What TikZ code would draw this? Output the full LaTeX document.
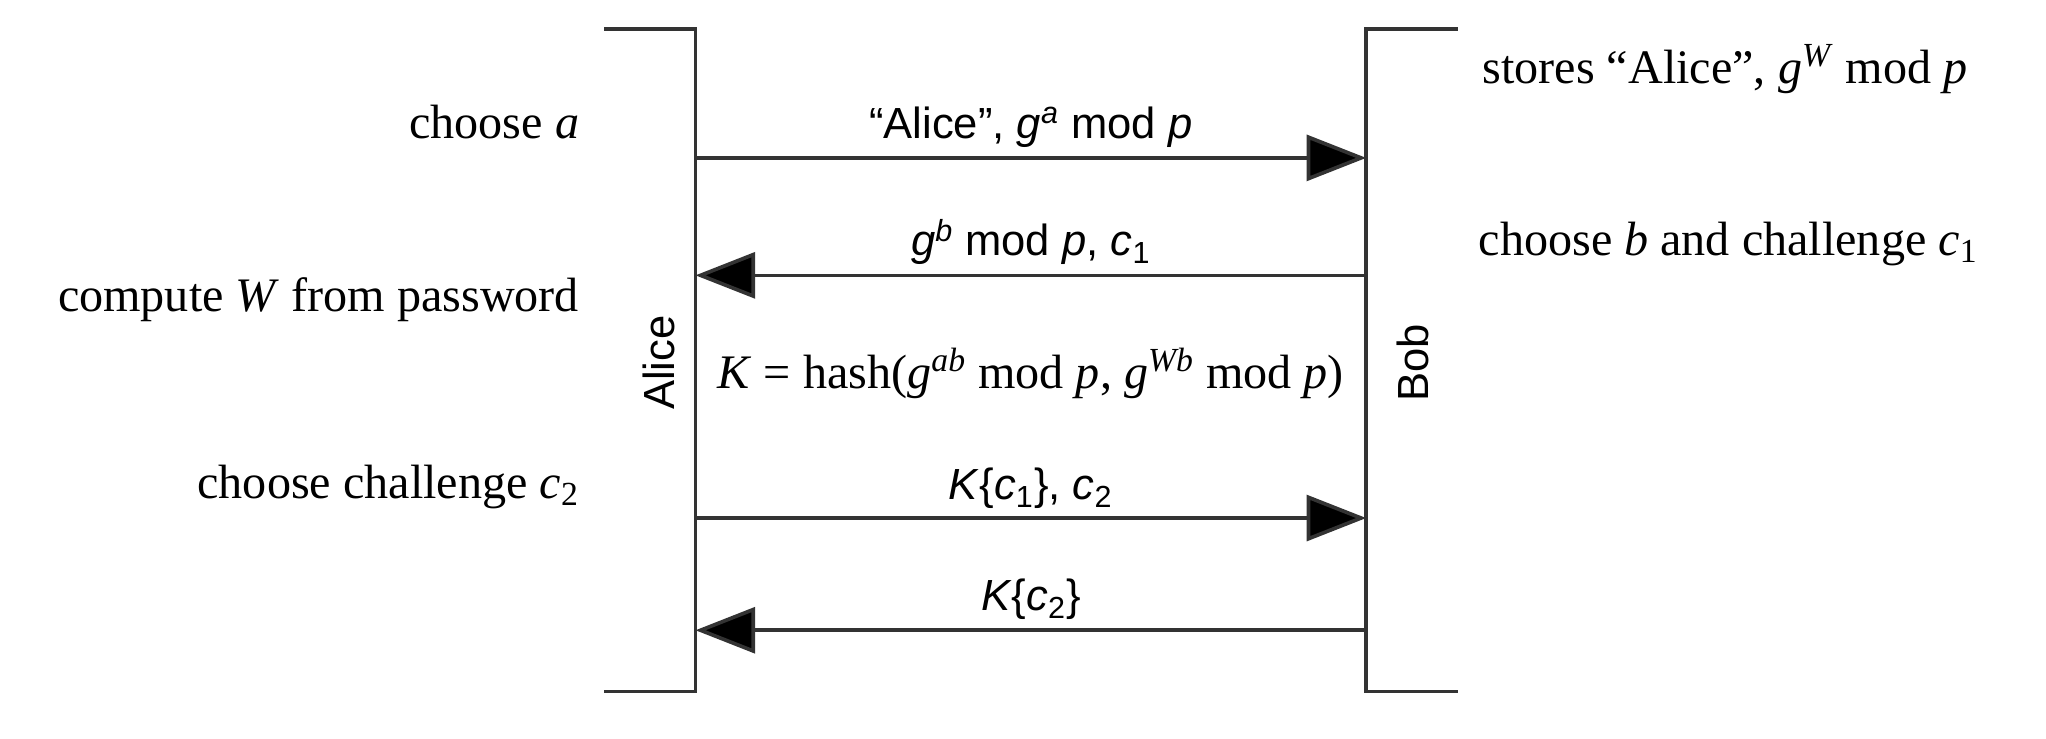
\documentclass[tikz,border=0pt]{standalone}
\usepackage{fontspec}
\setmainfont{Liberation Serif}
\setsansfont{Liberation Sans}
\usetikzlibrary{arrows.meta}
\newcommand{\sI}[1]{\textit{#1}}
\begin{document}
\begin{tikzpicture}[x=0.02cm,y=-0.02cm,
  lane/.style={line width=1.6pt,draw=black!80},
  msg/.style={line width=1.6pt,draw=black!80,-{Triangle[length=26pt,width=20pt,fill=black]}},
  mlab/.style={font=\sffamily\fontsize{19}{22}\selectfont,anchor=base},
  side/.style={font=\fontsize{21}{24}\selectfont,anchor=base}]
\useasboundingbox (0,0) rectangle (1568,566);
\coordinate (a1) at (533,22); \coordinate (a2) at (533,530);
\coordinate (b1) at (1047,22); \coordinate (b2) at (1047,530);
\draw[lane] (463,22) -- (a1) -- (a2) -- (463,530);
\draw[lane] (1117,22) -- (b1) -- (b2) -- (1117,530);
\node[font=\sffamily\fontsize{19}{22}\selectfont,rotate=90] (alice) at (505,278) {Alice};
\node[font=\sffamily\fontsize{19}{22}\selectfont,rotate=90] (bob) at (1083,278) {Bob};
\coordinate (m1a) at (533,121); \coordinate (m1b) at (1047,121);
\coordinate (m2a) at (533,211); \coordinate (m2b) at (1047,211);
\coordinate (m3a) at (533,397); \coordinate (m3b) at (1047,397);
\coordinate (m4a) at (533,483); \coordinate (m4b) at (1047,483);
\draw[msg] (m1a) -- (m1b);
\draw[msg] (m2b) -- (m2a);
\draw[msg] (m3a) -- (m3b);
\draw[msg] (m4b) -- (m4a);
\node[mlab] (l1) at (790,106) {``Alice'', \sI{g}\textsuperscript{\sI{a}} mod \sI{p}};
\node[mlab] (l2) at (790,196) {\sI{g}\textsuperscript{\sI{b}} mod \sI{p}, \sI{c}\textsubscript{1}};
\node[mlab] (l3) at (790,383) {\sI{K}\{\sI{c}\textsubscript{1}\}, \sI{c}\textsubscript{2}};
\node[mlab] (l4) at (790,468) {\sI{K}\{\sI{c}\textsubscript{2}\}};
\node[side] (k) at (790,298) {\sI{K} = hash(\sI{g}\textsuperscript{\sI{ab}} mod \sI{p}, \sI{g}\textsuperscript{\sI{Wb}} mod \sI{p})};
\node[side,anchor=base east] (s1) at (450,106) {choose \sI{a}};
\node[side,anchor=base east] (s2) at (450,239) {compute \sI{W} from password};
\node[side,anchor=base east] (s3) at (450,382) {choose challenge \sI{c}\textsubscript{2}};
\node[side,anchor=base west] (r1) at (1130,64) {stores ``Alice'', \sI{g}\textsuperscript{\sI{W}} mod \sI{p}};
\node[side,anchor=base west] (r2) at (1127,196) {choose \sI{b} and challenge \sI{c}\textsubscript{1}};
\end{tikzpicture}
\end{document}
